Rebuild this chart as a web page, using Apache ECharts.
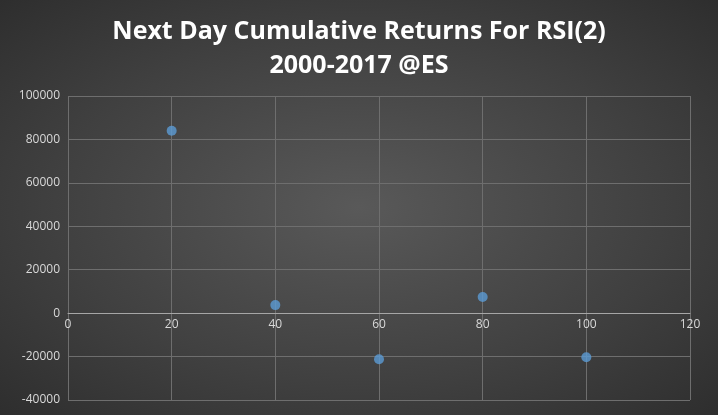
<!doctype html>
<html>
<head>
<meta charset="UTF-8">
<script src="https://cdn.jsdelivr.net/npm/echarts@6/dist/echarts.min.js"></script>
<style>
html,body{margin:0;padding:0;}
#main{width:718px;height:415px;background:radial-gradient(ellipse at center,#595959 0%,#404040 60%,#2e2e2e 100%);}
</style>
</head>
<body>
<div id="main"></div>
<script>
var xValues = [20, 40, 60, 80, 100];
var yValues = [84000, 3700, -21200, 7400, -20300];
var titleLines = ['Next Day Cumulative Returns For RSI(2)', '2000-2017 @ES'];

var chart = echarts.init(document.getElementById('main'));
var pts = [];
for (var i = 0; i < xValues.length; i++) pts.push([xValues[i], yValues[i]]);

chart.setOption({
	backgroundColor: 'transparent',
	title: {
		text: titleLines.join('\n'),
		left: 'center',
		top: 10,
		textStyle: {color: '#ffffff', fontSize: 25, fontWeight: 'bold', fontFamily: 'Open Sans', lineHeight: 34}
	},
	grid: {left: 68, right: 28, top: 96, bottom: 15},
	xAxis: {
		type: 'value', min: 0, max: 120, interval: 20,
		position: 'bottom', offset: -87,
		axisLine: {onZero: false, lineStyle: {color: '#a6a6a6'}},
		axisTick: {show: false},
		axisLabel: {color: '#d9d9d9', fontSize: 12, fontFamily: 'Open Sans', margin: 6},
		splitLine: {lineStyle: {color: '#6e6e6e'}}
	},
	yAxis: {
		type: 'value', min: -40000, max: 100000, interval: 20000,
		axisLine: {show: false},
		axisTick: {show: false},
		axisLabel: {color: '#d9d9d9', fontSize: 12, fontFamily: 'Open Sans', formatter: function (v) { return String(v); }},
		splitLine: {lineStyle: {color: '#6e6e6e'}}
	},
	series: [{
		type: 'scatter',
		data: pts,
		symbolSize: 10,
		itemStyle: {color: '#5b9bd5'}
	}]
});
</script>
</body>
</html>
